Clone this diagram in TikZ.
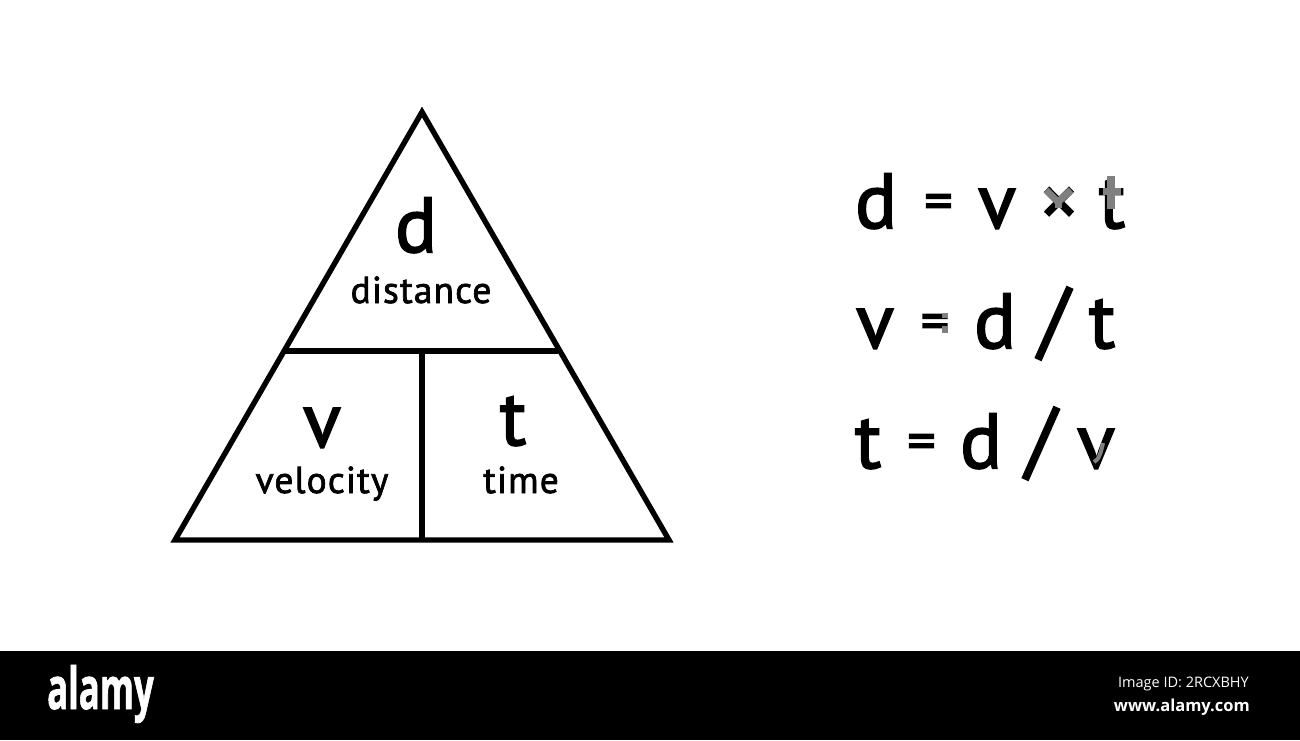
\documentclass[tikz,border=0pt]{standalone}
\usepackage{fontspec}
\setmainfont{PT Sans}[BoldFont={PT Sans},BoldFeatures={FakeBold=2.2}]
\newfontfamily\wordfont{PT Sans}[FakeBold=1.8,LetterSpace=3]
\newfontfamily\markfont{Open Sans}
\newfontfamily\logofont{Open Sans Bold}[FakeBold=1.5]
\definecolor{smudge}{gray}{0.5}
\tikzset{
  edge/.style={line width=5.4pt, line join=miter},
  bigsym/.style={font=\bfseries\fontsize{78pt}{78pt}\selectfont, inner sep=0pt, anchor=base},
  word/.style={font=\wordfont\fontsize{37.5pt}{37.5pt}\selectfont, inner sep=0pt, anchor=base},
  stamp/.style={text=white, inner sep=0pt},
  blot/.style={draw=smudge, line width=7pt},
}
\begin{document}
\begin{tikzpicture}[x=1pt, y=-1pt]
  \useasboundingbox (0, 0) rectangle (1300, 740);
  \fill (0, 651) rectangle (1300, 740);

  \coordinate (apex) at (422, 112);
  \coordinate (left) at (175, 540);
  \coordinate (right) at (669, 540);
  \coordinate (midleft) at (284, 351);
  \coordinate (midright) at (558, 351);
  \coordinate (midtop) at (422, 351);
  \coordinate (midbase) at (422, 540);

  \draw[edge] (apex) -- (right) -- (left) -- cycle;
  \draw[edge] (midleft) -- (midright);
  \draw[edge] (midtop) -- (midbase);

  \node[bigsym] (dsym) at (416, 252) {d};
  \node[word] (dword) at (421, 303) {distance};
  \node[bigsym] (vsym) at (322, 447) {v};
  \node[word] (vword) at (322, 493) {velocity};
  \node[bigsym] (tsym) at (513, 445) {t};
  \node[word] (tword) at (521, 493) {time};

  % one glyph at a time, the gaps are wide
  \foreach \i/\x/\s in {1/876/d, 3/997/v, 4/1059/×, 5/1112/t}
    \node[bigsym] (eqa\i) at (\x, 228) {\s};
  \foreach \i/\x/\s in {1/875/v, 3/995/d, 5/1102/t}
    \node[bigsym] (eqb\i) at (\x, 348) {\s};
  \foreach \i/\x/\s in {1/868/t, 3/981/d, 5/1096/v}
    \node[bigsym] (eqc\i) at (\x, 468) {\s};
  \node[bigsym, scale=0.72] (eqa2) at (938.5, 220) {=};
  \node[bigsym, scale=0.72] (eqb2) at (935, 340) {=};
  \node[bigsym, scale=0.72] (eqc2) at (921.5, 460) {=};
  \node[bigsym, scale=1.1] (eqb4) at (1054, 348) {/};
  \node[bigsym, scale=1.1] (eqc4) at (1041, 468) {/};

  % grey patches over the glyphs
  \draw[blot] (1046, 190) -- (1058, 202) -- (1071, 190);
  \draw[blot] (1058, 200) -- (1058, 208);
  \fill[smudge] (1107, 176) rectangle (1115, 209);
  \fill[smudge] (1103, 188) rectangle (1121, 195);
  \fill[smudge] (942, 313) rectangle (948, 318);
  \fill[smudge] (942, 326) rectangle (948, 333);
  \draw[blot, line width=4pt] (1103, 443) .. controls (1101, 452) and (1099, 460) .. (1094, 462);

  \node[stamp, font=\logofont\fontsize{58pt}{58pt}\selectfont, xscale=0.6, anchor=base] (logo) at (100.5, 709) {alamy};
  \node[stamp, font=\markfont\fontsize{14.5pt}{14.5pt}\selectfont, anchor=base east] (code) at (1249, 687) {Image ID: 2RCXBHY};
  \node[stamp, font=\markfont\bfseries\fontsize{16.5pt}{16.5pt}\selectfont, anchor=base east] (site) at (1250, 711) {www.alamy.com};
\end{tikzpicture}
\end{document}
